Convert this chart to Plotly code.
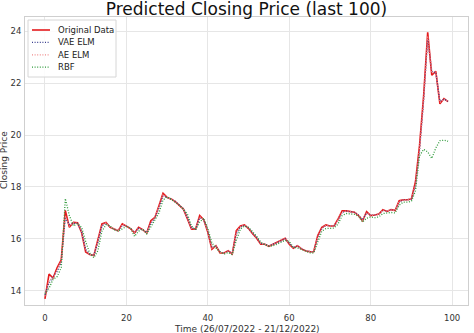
import plotly.graph_objects as go

t = list(range(100))

original = [13.7, 14.65, 14.5, 14.9, 15.2, 17.1, 16.45, 16.64, 16.62, 16.25,
            15.5, 15.4, 15.36, 15.94, 16.58, 16.64, 16.45, 16.38, 16.32, 16.58,
            16.5, 16.4, 16.23, 16.45, 16.36, 16.23, 16.7, 16.83, 17.28, 17.76,
            17.6, 17.54, 17.44, 17.28, 17.15, 16.77, 16.38, 16.38, 16.9, 16.74,
            16.26, 15.6, 15.74, 15.46, 15.46, 15.55, 15.42, 16.32, 16.5, 16.54,
            16.4, 16.2, 16.03, 15.8, 15.8, 15.72, 15.8, 15.87, 15.94, 16.03,
            15.8, 15.64, 15.74, 15.62, 15.55, 15.51, 15.51, 16.13, 16.45, 16.54,
            16.5, 16.5, 16.77, 17.08, 17.08, 17.06, 17.03, 16.9, 16.7, 17.05,
            16.9, 16.92, 16.96, 17.13, 17.06, 17.13, 17.09, 17.47, 17.51, 17.51,
            17.54, 18.2, 19.6, 21.5, 23.95, 22.3, 22.45, 21.2, 21.4, 21.28]

vae_elm = [13.85, 14.3, 14.55, 14.75, 15.1, 16.8, 16.55, 16.6, 16.6, 16.3,
           15.6, 15.42, 15.36, 15.85, 16.5, 16.6, 16.47, 16.38, 16.33, 16.52,
           16.5, 16.41, 16.26, 16.4, 16.36, 16.25, 16.6, 16.8, 17.2, 17.65,
           17.6, 17.53, 17.45, 17.3, 17.17, 16.82, 16.43, 16.38, 16.82, 16.75,
           16.3, 15.68, 15.72, 15.5, 15.46, 15.53, 15.45, 16.2, 16.46, 16.52,
           16.42, 16.22, 16.06, 15.83, 15.8, 15.74, 15.79, 15.86, 15.92, 16.01,
           15.83, 15.67, 15.72, 15.63, 15.56, 15.52, 15.51, 16.05, 16.4, 16.52,
           16.5, 16.5, 16.72, 17.02, 17.07, 17.06, 17.03, 16.92, 16.74, 17.0,
           16.91, 16.92, 16.95, 17.1, 17.07, 17.12, 17.09, 17.42, 17.5, 17.51,
           17.53, 18.05, 19.4, 21.3, 23.7, 22.45, 22.4, 21.3, 21.38, 21.3]

ae_elm = [13.8, 14.4, 14.5, 14.8, 15.15, 16.9, 16.5, 16.62, 16.61, 16.28,
          15.55, 15.41, 15.37, 15.9, 16.54, 16.62, 16.46, 16.39, 16.33, 16.55,
          16.5, 16.4, 16.25, 16.42, 16.36, 16.24, 16.65, 16.82, 17.24, 17.7,
          17.6, 17.54, 17.44, 17.29, 17.16, 16.8, 16.4, 16.38, 16.86, 16.75,
          16.28, 15.64, 15.73, 15.48, 15.46, 15.54, 15.44, 16.26, 16.48, 16.53,
          16.41, 16.21, 16.05, 15.82, 15.8, 15.73, 15.8, 15.86, 15.93, 16.02,
          15.82, 15.66, 15.73, 15.63, 15.56, 15.52, 15.51, 16.08, 16.42, 16.53,
          16.5, 16.5, 16.74, 17.05, 17.07, 17.06, 17.03, 16.91, 16.72, 17.02,
          16.9, 16.92, 16.95, 17.11, 17.07, 17.12, 17.09, 17.44, 17.5, 17.51,
          17.53, 18.1, 19.5, 21.4, 23.8, 22.4, 22.42, 21.25, 21.38, 21.3]

rbf = [13.9, 14.1, 14.45, 14.55, 14.9, 17.55, 16.9, 16.5, 16.6, 16.45,
       15.9, 15.45, 15.28, 15.55, 16.3, 16.55, 16.5, 16.35, 16.3, 16.4,
       16.48, 16.42, 16.1, 16.3, 16.38, 16.2, 16.45, 16.75, 17.0, 17.5,
       17.62, 17.52, 17.42, 17.3, 17.15, 16.95, 16.5, 16.35, 16.65, 16.8,
       16.4, 15.85, 15.65, 15.5, 15.42, 15.48, 15.4, 15.95, 16.38, 16.5,
       16.45, 16.28, 16.1, 15.88, 15.78, 15.72, 15.74, 15.8, 15.86, 15.95,
       15.9, 15.68, 15.66, 15.6, 15.52, 15.47, 15.46, 15.85, 16.3, 16.4,
       16.4, 16.42, 16.58, 16.9, 16.98, 16.97, 16.95, 16.88, 16.65, 16.8,
       16.85, 16.82, 16.85, 16.98, 17.0, 17.02, 17.0, 17.3, 17.42, 17.42,
       17.45, 17.85, 19.2, 19.45, 19.35, 19.1, 19.5, 19.78, 19.8, 19.76]

x_ticks = [0, 20, 40, 60, 80, 100]
y_ticks = [14, 16, 18, 20, 22, 24]

series_names = ["Original Data", "VAE ELM", "AE ELM", "RBF"]
series_values = [original, vae_elm, ae_elm, rbf]
series_colors = ["#e41a1c", "#3a3f8f", "#f08a8a", "#2e9a3a"]
series_dash = ["solid", "1px,1.6px", "1px,1.6px", "1px,1.6px"]
series_width = [1.6, 1.3, 1.3, 1.3]

FONT = "DejaVu Sans"
W, H = 474, 333
ML, MR, MT, MB = 25, 6, 17, 28
PW, PH = W - ML - MR, H - MT - MB

def px(xp):
    return (xp - ML) / PW

def py(yp):
    return 1 - (yp - MT) / PH

fig = go.Figure()
for name, vals, col, dsh, wd in zip(series_names, series_values, series_colors,
                                     series_dash, series_width):
    fig.add_trace(go.Scatter(x=t, y=vals, mode="lines", name=name,
                             line=dict(color=col, width=wd, dash=dsh),
                             showlegend=False))

# custom compact legend (matplotlib-like)
shapes = [dict(type="rect", xref="paper", yref="paper",
               x0=px(28), x1=px(116), y0=py(77), y1=py(20),
               fillcolor="rgba(255,255,255,0.85)", line=dict(color="#d6d6d6", width=1),
               layer="above")]
annotations = []
for i, (name, col, dsh, wd) in enumerate(zip(series_names, series_colors,
                                             series_dash, series_width)):
    yy = 30 + i * 12.4
    shapes.append(dict(type="line", xref="paper", yref="paper",
                       x0=px(32), x1=px(50), y0=py(yy), y1=py(yy),
                       line=dict(color=col, width=wd, dash=dsh), layer="above"))
    annotations.append(dict(text=name, xref="paper", yref="paper",
                            x=px(56), y=py(yy), xanchor="left", yanchor="middle",
                            showarrow=False,
                            font=dict(family=FONT, size=8.5, color="#222222")))

annotations.append(dict(text="Closing Price", xref="paper", yref="paper",
                        x=0, xshift=-21, y=py(160), xanchor="center", yanchor="middle",
                        textangle=-90, showarrow=False,
                        font=dict(family=FONT, size=9, color="#333333")))
annotations.append(dict(text="Time (26/07/2022 - 21/12/2022)", xref="paper", yref="paper",
                        x=0.5, xanchor="center", y=0, yanchor="middle", yshift=-23.5,
                        showarrow=False,
                        font=dict(family=FONT, size=9, color="#333333")))

fig.update_layout(
    width=W, height=H,
    margin=dict(l=ML, r=MR, t=MT, b=MB),
    paper_bgcolor="white", plot_bgcolor="white",
    font=dict(family=FONT, size=8, color="#333333"),
    title=dict(text="Predicted Closing Price (last 100)", x=0.5, xanchor="center",
               xref="paper",
               y=1 - 9.5 / H, yanchor="middle", yref="container",
               font=dict(family=FONT, size=17, color="#111111")),
    showlegend=False,
    shapes=shapes,
    annotations=annotations,
)

fig.update_xaxes(range=[-4.9, 103.9], tickvals=x_ticks, ticktext=[str(v) for v in x_ticks],
                 showgrid=True, gridcolor="#e6e6e6", gridwidth=1, zeroline=False,
                 showline=True, linecolor="#cfcfcf", mirror=True, ticks="",
                 ticklabelstandoff=5,
                 tickfont=dict(family=FONT, size=8.5, color="#333333"))
fig.update_yaxes(range=[13.46, 24.54], tickvals=y_ticks, ticktext=[str(v) for v in y_ticks],
                 showgrid=True, gridcolor="#e6e6e6", gridwidth=1, zeroline=False,
                 showline=True, linecolor="#cfcfcf", mirror=True, ticks="",
                 ticklabelstandoff=1,
                 tickfont=dict(family=FONT, size=8.5, color="#333333"))

fig.write_html("out.html")
